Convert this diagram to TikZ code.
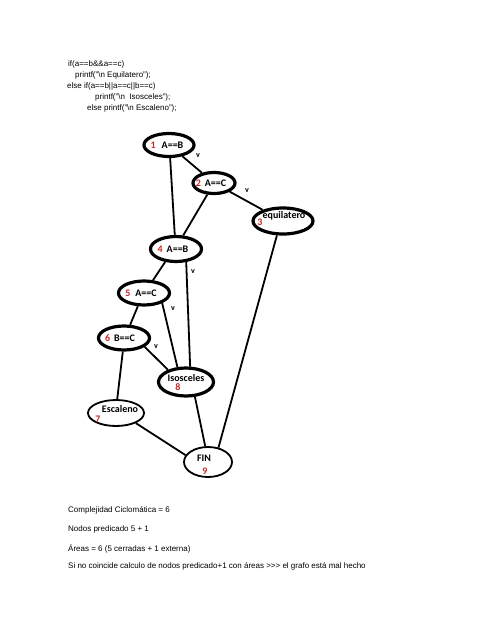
\documentclass[tikz,border=0pt]{standalone}
\usepackage{fontspec}
\setmainfont{Liberation Sans}
\newfontfamily\nodefont{Carlito}
\usetikzlibrary{shapes.geometric}
\definecolor{numred}{RGB}{205,40,40}
\tikzset{
  ell/.style={draw=black, line width=3.2pt, ellipse, inner sep=0pt},
  edge/.style={draw=black, line width=1.8pt},
  txt/.style={anchor=base west, inner sep=0pt, font=\fontsize{8}{9}\selectfont},
  lbl/.style={inner sep=0pt, font=\nodefont\bfseries\fontsize{10}{11}\selectfont},
  num/.style={inner sep=0pt, text=numred, font=\nodefont\bfseries\fontsize{10}{11}\selectfont},
  vl/.style={inner sep=0pt, font=\nodefont\bfseries\fontsize{8}{9}\selectfont}
}
\begin{document}
\begin{tikzpicture}[x=1pt,y=-1pt]
\useasboundingbox (0,0) rectangle (495,640);
\fill[white] (0,0) rectangle (495,640);
% code text
\node[txt] (c1) at (68,66) {if(a==b\&\&a==c)};
\node[txt] (c2) at (75,77) {printf("\textbackslash n Equilatero");};
\node[txt] (c3) at (67,88) {else if(a==b||a==c||b==c)};
\node[txt] (c4) at (95,99) {printf("\textbackslash n\ \ Isosceles");};
\node[txt] (c5) at (87,110) {else printf("\textbackslash n Escaleno");};
% nodes
\node[ell, minimum width=50pt, minimum height=23pt] (n1) at (169,145) {};
\node[lbl] (t1) at (167,145) {\textcolor{numred}{1}\hspace{6pt}A==B};
\node[ell, minimum width=42pt, minimum height=21pt] (n2) at (214,183) {};
\node[lbl] (t2) at (211,183) {\textcolor{numred}{2}\hspace{4pt}A==C};
\node[ell, minimum width=60pt, minimum height=26pt] (n3) at (283,221) {};
\node[lbl] (t3) at (284,216) {equilatero};
\node[num] (u3) at (260,222) {3};
\node[ell, minimum width=51pt, minimum height=25pt] (n4) at (176,249) {};
\node[lbl] (t4) at (173,249) {\textcolor{numred}{4}\hspace{4pt}A==B};
\node[ell, minimum width=51pt, minimum height=24pt] (n5) at (144,293) {};
\node[lbl] (t5) at (141,293) {\textcolor{numred}{5}\hspace{5pt}A==C};
\node[ell, minimum width=51pt, minimum height=24pt] (n6) at (124,338) {};
\node[lbl] (t6) at (120,338) {\textcolor{numred}{6}\hspace{4pt}B==C};
\node[ell, minimum width=55pt, minimum height=28pt] (n8) at (186,382) {};
\node[lbl] (t8) at (186,378) {Isosceles};
\node[num] (u8) at (178,387) {8};
\node[ell, line width=1.8pt, minimum width=56pt, minimum height=26pt] (n7) at (116,413) {};
\node[lbl] (t7) at (120,409) {Escaleno};
\node[num] (u7) at (98,419) {7};
\node[ell, line width=1.8pt, minimum width=48pt, minimum height=30pt] (n9) at (208,462) {};
\node[lbl] (t9) at (204,458) {FIN};
\node[num] (u9) at (205,471) {9};
% edges
\draw[edge] (n1) -- (n2);
\draw[edge] (n1.-85) -- (n4.95);
\draw[edge] (n2) -- (n3);
\draw[edge] (n2.-120) -- (n4.62);
\draw[edge] (n3.-113) -- (n9.54);
\draw[edge] (n4.-130) -- (n5.55);
\draw[edge] (n4.-52) -- (n8.75);
\draw[edge] (n5.-29) -- (n8.120);
\draw[edge] (n5.-115) -- (n6.65);
\draw[edge] (n6.-23) -- (n8.146);
\draw[edge] (n6.-95) -- (n7.85);
\draw[edge] (n7.-27) -- (n9.163);
\draw[edge] (n8.-59) -- (n9.100);
% v labels
\node[vl] (v1) at (198,156) {v};
\node[vl] (v2) at (247,191) {v};
\node[vl] (v4) at (193,272) {v};
\node[vl] (v5) at (173,309) {v};
\node[vl] (v6) at (156,347) {v};
% bottom text
\node[txt] (b1) at (68,512) {Complejidad Ciclomática = 6};
\node[txt] (b2) at (68,531) {Nodos predicado 5 + 1};
\node[txt] (b3) at (68,551) {Áreas = 6 (5 cerradas + 1 externa)};
\node[txt] (b4) at (68,568) {Si no coincide calculo de nodos predicado+1 con áreas >\kern0pt>\kern0pt> el grafo está mal hecho};
\end{tikzpicture}
\end{document}
